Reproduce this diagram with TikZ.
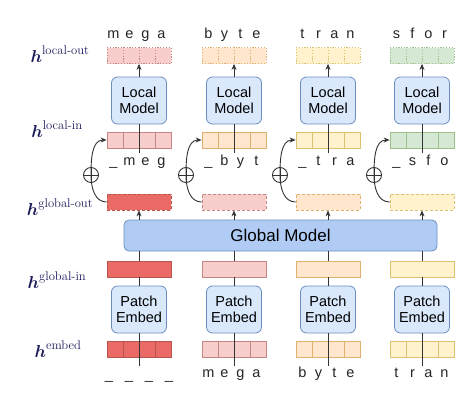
\documentclass[tikz,border=0pt]{standalone}
\usepackage{fontspec}
\usepackage{amsmath}
\newfontfamily\hv{Liberation Sans}
\usetikzlibrary{arrows.meta}
\definecolor{f1}{HTML}{EA6B66}\definecolor{d1}{HTML}{B85450}
\definecolor{f2}{HTML}{F8CECC}\definecolor{d2}{HTML}{C48583}
\definecolor{f3}{HTML}{FFE6CC}\definecolor{d3}{HTML}{E0B070}
\definecolor{f4}{HTML}{FFF2CC}\definecolor{d4}{HTML}{DCC270}
\definecolor{f5}{HTML}{D5E8D4}\definecolor{d5}{HTML}{9DC08A}
\definecolor{boxf}{HTML}{DAE8FC}\definecolor{boxd}{HTML}{6C8EBF}
\definecolor{gmf}{HTML}{B0CCF5}
\definecolor{navy}{HTML}{1C1C5C}
\definecolor{ln}{HTML}{333333}
\begin{document}
\begin{tikzpicture}[x=1pt,y=-1pt,
 bar/.style={rectangle, minimum width=64pt, minimum height=16pt, inner sep=0pt, line width=0.8pt},
 mbox/.style={rectangle, rounded corners=6pt, draw=boxd, fill=boxf, line width=0.8pt, minimum width=55pt, minimum height=47pt, inner sep=0pt, align=center, font=\hv\fontsize{14.5}{16.5}\selectfont},
 gbox/.style={rectangle, rounded corners=5pt, draw=boxd, fill=gmf, line width=0.8pt, minimum width=313pt, minimum height=31pt, inner sep=0pt, font=\hv\fontsize{17}{20}\selectfont},
 ltr/.style={anchor=base, inner sep=0pt, font=\hv\fontsize{14.5}{16}\selectfont, text=black!85},
 lab/.style={anchor=base, inner sep=0pt, text=navy, font=\fontsize{18}{21}\selectfont},
 conn/.style={draw=ln, line width=0.9pt},
 arr/.style={conn, -{Stealth[length=6pt,width=5pt]}},
 dashbar/.style={dash pattern=on 3pt off 2pt},
 dotbar/.style={dash pattern=on 1.2pt off 1.6pt},
 plus/.style={circle, draw=ln, line width=0.9pt, minimum size=15pt, inner sep=0pt,
   path picture={\draw[ln, line width=0.9pt] (path picture bounding box.west) -- (path picture bounding box.east) (path picture bounding box.north) -- (path picture bounding box.south);}},
]
\useasboundingbox (0,0) rectangle (474,402);
\fill[white] (0,0) rectangle (474,402);

\node[gbox] (gm) at (280.5,235.5) {Global Model};

\node[lab] (hlo) at (60,62) {$\boldsymbol{h}^{\text{local-out}}$};
\node[lab] (hli) at (57,137) {$\boldsymbol{h}^{\text{local-in}}$};
\node[lab] (hgo) at (60,215) {$\boldsymbol{h}^{\text{global-out}}$};
\node[lab] (hgi) at (57,288) {$\boldsymbol{h}^{\text{global-in}}$};
\node[lab] (hem) at (58,357) {$\boldsymbol{h}^{\text{embed}}$};

\foreach \c/\top/\mid/\bot [count=\i] in {139/{m,e,g,a}/{\_,m,e,g}/{\_,\_,\_,\_}, 234/{b,y,t,e}/{\_,b,y,t}/{m,e,g,a}, 328/{t,r,a,n}/{\_,t,r,a}/{b,y,t,e}, 422/{s,f,o,r}/{\_,s,f,o}/{t,r,a,n}}{
  \pgfmathtruncatemacro\j{\i+1}
  \coordinate (bt\i) at (\c,366);
  \coordinate (mt\i) at (\c,153);
  % embed bar
  \node[bar, fill=f\i, draw=d\i] (emb\i) at (\c,349) {};
  \foreach \k in {-16,0,16} \draw[d\i, line width=0.8pt] ([xshift=\k pt]emb\i.north) -- ([xshift=\k pt]emb\i.south);
  \node[mbox] (pe\i) at (\c,309.5) {Patch\\Embed};
  \node[bar, fill=f\i, draw=d\i] (gin\i) at (\c,269) {};
  \node[bar, fill=f\i, draw=d\i, dashbar] (gout\i) at (\c,202) {};
  % local
  \node[bar, fill=f\j, draw=d\j] (lin\i) at (\c,140) {};
  \foreach \k in {-16,0,16} \draw[d\j, line width=0.8pt] ([xshift=\k pt]lin\i.north) -- ([xshift=\k pt]lin\i.south);
  \node[mbox] (lm\i) at (\c,100.5) {Local\\Model};
  \node[bar, fill=f\j, draw=d\j, dotbar] (lout\i) at (\c,55.5) {};
  \foreach \k in {-16,0,16} \draw[d\j, line width=0.8pt, dotbar] ([xshift=\k pt]lout\i.north) -- ([xshift=\k pt]lout\i.south);
  \node[plus] (pl\i) at (\c-48,175) {};
  % connectors
  \draw[conn] (bt\i) -- (pe\i.south);
  \draw[conn] (pe\i.north) -- (gin\i.south);
  \draw[conn] (gin\i.north) -- (gin\i.north |- gm.south);
  \draw[arr] (gout\i.south |- gm.north) -- (gout\i.south);
  \draw[conn] (mt\i) -- (lm\i.south);
  \draw[arr] (lm\i.north) -- (lout\i.south);
  \draw[arr] (gout\i.west) to[out=180,in=-90] (pl\i.center) to[out=90,in=180] (lin\i.west);
  % letters
  \foreach \l [count=\k] in \top \node[ltr] (tt\i-\k) at (\c-41.5+16*\k, 38) {\l};
  \foreach \l [count=\k] in \mid \node[ltr] (tm\i-\k) at (\c-41.5+16*\k, 165) {\l};
  \ifnum\i>1
    \foreach \l [count=\k] in \bot \node[ltr] (tb\i-\k) at (\c-41.5+16*\k, 377) {\l};
  \fi
}
\foreach \x [count=\k] in {109,129,149,169} \node[ltr] (tb1-\k) at (\x,379) {\_};
\end{tikzpicture}
\end{document}
